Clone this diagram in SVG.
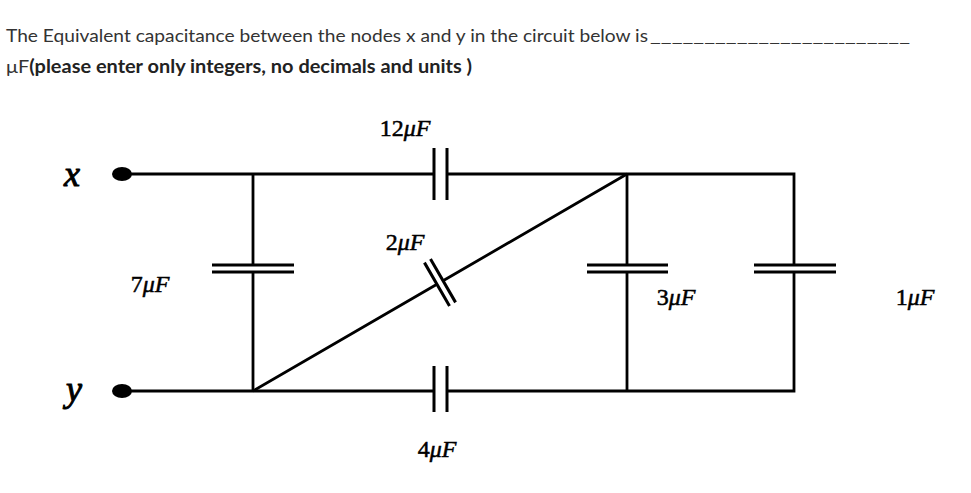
<svg xmlns="http://www.w3.org/2000/svg" width="971" height="493" viewBox="0 0 971 493">
<style>
.w{stroke:#000;stroke-width:2.8;fill:none}
.p{stroke:#000;stroke-width:3;fill:none}
.t{font-family:Lato,"Open Sans",sans-serif;font-size:18px;fill:#333}
.m{font-family:"Liberation Serif",serif;font-size:24px;fill:#000;stroke:#000;stroke-width:0.5}
.i{font-style:italic}
.n{font-size:36px;stroke-width:1}
</style>
<rect width="971" height="493" fill="#fff"/>
<text class="t" x="6" y="42" textLength="642" lengthAdjust="spacingAndGlyphs">The Equivalent capacitance between the nodes  x and y  in the circuit below is</text>
<text class="t" x="650" y="42" textLength="260" lengthAdjust="spacingAndGlyphs">________________________</text>
<text class="t" x="6" y="73" textLength="466" lengthAdjust="spacingAndGlyphs">μF<tspan font-weight="bold" fill="#222">(please enter only integers, no decimals and units )</tspan></text>
<g id="connectors">
<path class="w" d="M122 174H434M447 174H794V265M794 272V391H447M434 391H122"/>
<path class="w" d="M253 174V265M253 272V391M627 174V265M627 272V391"/>
<path class="w" d="M253 391L436.5 284.5M443.5 280.5L627 174"/>
</g>
<g id="x"><ellipse cx="122" cy="174" rx="10" ry="7"/><text class="m i n" x="64" y="186">x</text></g>
<g id="y"><ellipse cx="122" cy="391" rx="10" ry="7"/><text class="m i n" x="66" y="401">y</text></g>
<g id="c12"><path class="p" d="M434 148V200M447 148V200"/><text class="m" x="405" y="136" text-anchor="middle">12<tspan class="i">μF</tspan></text></g>
<g id="c4"><path class="p" d="M434 366V412M447 366V412"/><text class="m" x="437" y="457" text-anchor="middle">4<tspan class="i">μF</tspan></text></g>
<g id="c7"><path class="p" d="M212 265H294M212 272H294"/><text class="m" x="150" y="292" text-anchor="middle">7<tspan class="i">μF</tspan></text></g>
<g id="c3"><path class="p" d="M587 265H668M587 272H668"/><text class="m" x="676" y="305" text-anchor="middle">3<tspan class="i">μF</tspan></text></g>
<g id="c1"><path class="p" d="M754 265H836M754 272H836"/><text class="m" x="915" y="305" text-anchor="middle">1<tspan class="i">μF</tspan></text></g>
<g id="c2"><g transform="translate(440,282.5) rotate(-30.1)"><path class="p" d="M-3.5 -25V25M3.5 -25V25"/></g><text class="m" x="405" y="250" text-anchor="middle">2<tspan class="i">μF</tspan></text></g>
</svg>
